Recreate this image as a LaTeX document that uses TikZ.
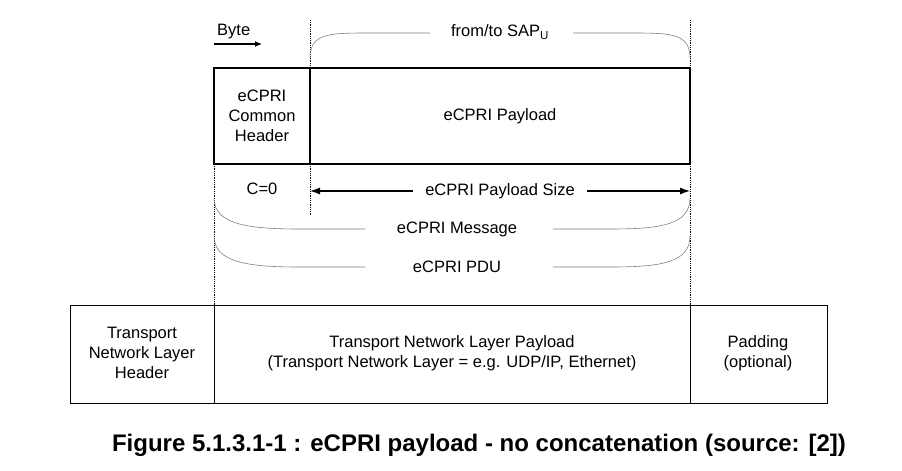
\documentclass[tikz,border=0pt]{standalone}
\usepackage{fontspec}
\setmainfont{Liberation Sans}
\usetikzlibrary{arrows.meta,calc}
\begin{document}
\begin{tikzpicture}[x=1pt,y=-1pt,
  txt/.style={font=\fontsize{16.5}{20}\selectfont,align=center,inner sep=0},
  dot/.style={densely dotted,line width=0.8pt},
  br/.style={gray,line width=0.6pt},
  thickbox/.style={line width=2.6pt},
  thinbox/.style={line width=0.8pt},
  arr/.style={-{Latex[length=10pt,width=7pt]},line width=1.2pt}]
\useasboundingbox (0,0) rectangle (902,471);
% top box
\draw[thickbox] (214,68) rectangle (690,164);
\draw[thickbox] (310,68) -- (310,164);
\node[txt] (hdr) at (262,116) {eCPRI\\Common\\Header};
\node[txt] (pl) at (500,116) {eCPRI Payload};
% dotted guides
\draw[dot] (310,20) -- (310,215);
\draw[dot] (690,20) -- (690,305);
\draw[dot] (214,164) -- (214,305);
% byte
\node[txt,anchor=west] (byte) at (217,32) {Byte};
\coordinate (b1) at (214,44); \coordinate (b2) at (262,44);
\draw[-{Latex[length=7pt,width=6pt]},line width=1.1pt] (b1) -- (b2);
% from/to SAP brace
\node[txt] (sap) at (500,32) {from/to SAP\textsubscript{U}};
\draw[br] (310,58) .. controls (310,33) and (330,33) .. (370,33) -- (430,33);
\draw[br] (573,33) -- (630,33) .. controls (670,33) and (690,33) .. (690,58);
% C=0
\node[txt] (c0) at (262,189) {C=0};
% payload size
\node[txt] (ps) at (500,191) {eCPRI Payload Size};
\coordinate (p0) at (310,191); \coordinate (p1) at (690,191);
\draw[arr] ($(ps.west)+(-12,0)$) -- (p0);
\draw[arr] ($(ps.east)+(12,0)$) -- (p1);
% message brace
\node[txt] (msg) at (457,229) {eCPRI Message};
\draw[br] (214,198) .. controls (214,225) and (250,229) .. (300,229) -- (365,229);
\draw[br] (553,229) -- (610,229) .. controls (660,229) and (690,225) .. (690,198);
% PDU brace
\node[txt] (pdu) at (457,267) {eCPRI PDU};
\draw[br] (214,236) .. controls (214,263) and (250,267) .. (300,267) -- (365,267);
\draw[br] (553,267) -- (610,267) .. controls (660,267) and (690,263) .. (690,236);
% bottom box
\draw[thinbox] (70,305) rectangle (827,403);
\draw[thinbox] (214,305) -- (214,403);
\draw[thinbox] (690,305) -- (690,403);
\node[txt] (tnh) at (142,353) {Transport\\Network Layer\\Header};
\node[txt] (tnp) at (452,353) {Transport Network Layer Payload\\(Transport Network Layer = e.g. UDP/IP, Ethernet)};
\node[txt] (pad) at (758,353) {Padding\\(optional)};
% caption
\node[font=\fontsize{24}{28}\selectfont\bfseries,inner sep=0] (cap) at (479,445) {Figure 5.1.3.1-1 : eCPRI payload - no concatenation (source: [2])};
\end{tikzpicture}
\end{document}
